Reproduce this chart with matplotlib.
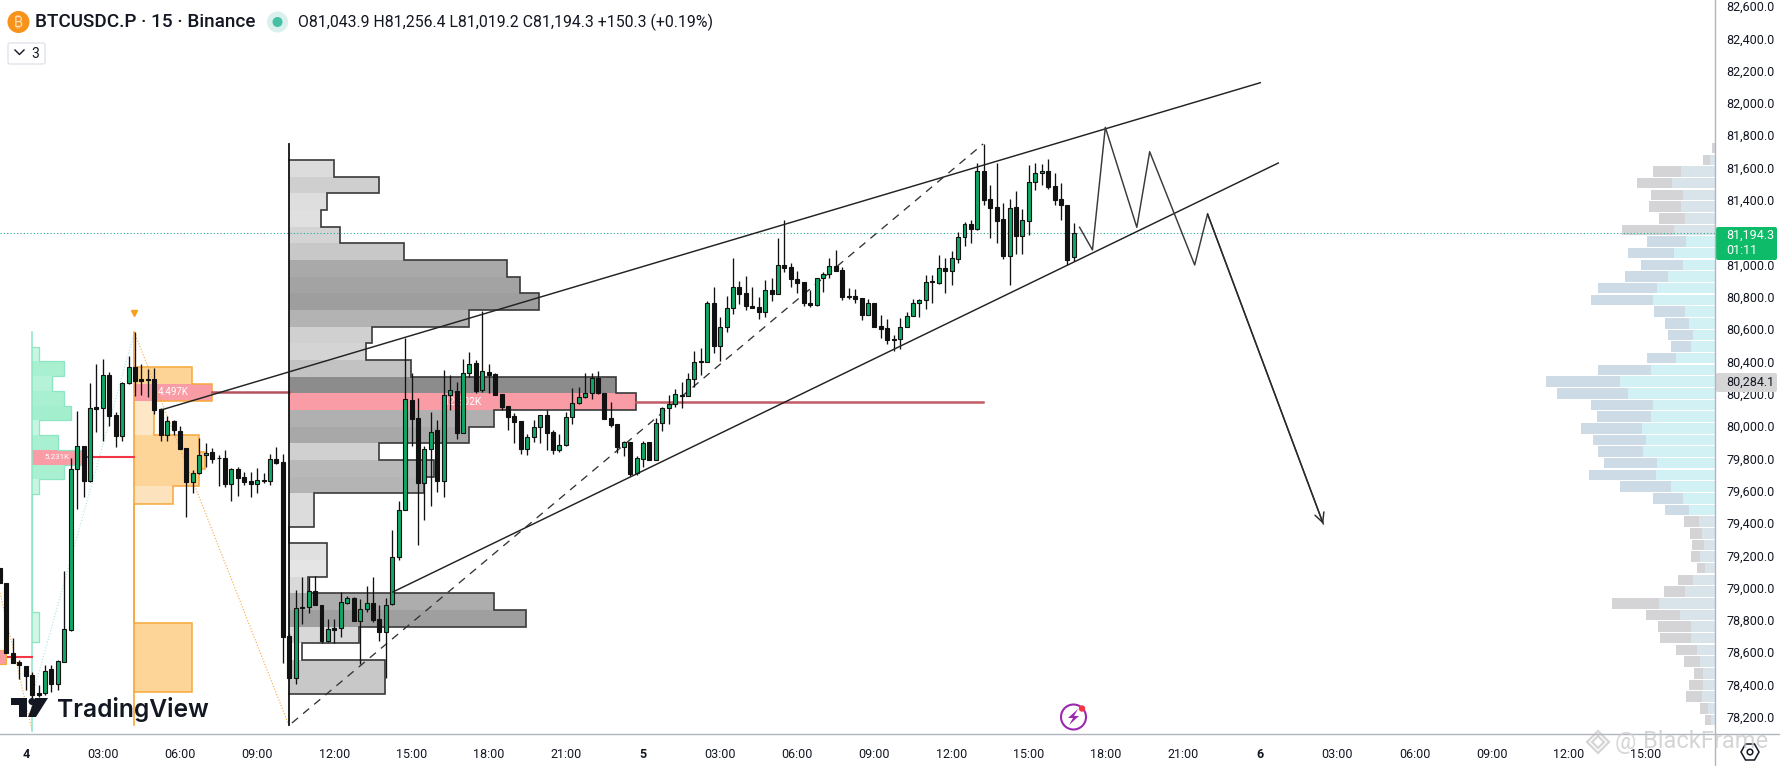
import numpy as np
import matplotlib
matplotlib.use('Agg')
import matplotlib.pyplot as plt
from matplotlib.patches import Rectangle, Circle, Polygon, FancyBboxPatch

plt.rcParams['font.family'] = ['Roboto', 'DejaVu Sans']

# 15 minute candles
opens = [79119, 79026, 78597, 78537, 78517, 78459, 78346, 78346, 78494, 78403,
         78542, 78738, 79732, 79876, 79662, 80116, 80113, 80314, 80066, 79940,
         80264, 80367, 80289, 80289, 80289, 80103, 79944, 80033, 79971, 79862,
         79656, 79707, 79819, 79837, 79804, 79800, 79643, 79732, 79682, 79660,
         79643, 79664, 79662, 79796, 79775, 78701, 78439, 78879, 78879, 78982,
         78891, 78672, 78749, 78749, 78907, 78934, 78796, 78866, 78903, 78804,
         78728, 78899, 79188, 79479, 80162, 80048, 79650, 79856, 79976, 79662,
         80191, 80217, 79960, 80327, 80393, 80226, 80335, 80321, 80197, 80123,
         80061, 80032, 79861, 79931, 79993, 80067, 79962, 79854, 79881, 80054,
         80141, 80178, 80203, 80296, 80203, 80048, 80011, 79873, 79900, 79708,
         79799, 79900, 79792, 80021, 80110, 80137, 80195, 80185, 80290, 80403,
         80399, 80760, 80498, 80616, 80733, 80863, 80822, 80746, 80735, 80704,
         80839, 80820, 80995, 80983, 80909, 80890, 80760, 80748, 80915, 80940,
         80989, 80964, 80806, 80804, 80791, 80690, 80760, 80618, 80605, 80537,
         80537, 80616, 80684, 80764, 80783, 80898, 80888, 80977, 80962, 81037,
         81169, 81249, 81218, 81577, 81404, 81354, 81280, 81055, 81354, 81179,
         81272, 81509, 81565, 81577, 81484, 81404, 81367, 81043.9]
highs = [79119, 79026, 78686, 78552, 78517, 78480, 78397, 78521, 78521, 78552,
         79103, 79800, 80093, 79876, 80264, 80382, 80413, 80336, 80089, 80274,
         80433, 80580, 80382, 80351, 80357, 80109, 80062, 80037, 80002, 79862,
         79728, 79924, 79897, 79862, 79821, 79852, 79738, 79748, 79717, 79713,
         79738, 79707, 79825, 79868, 79825, 78718, 78986, 79068, 79068, 79072,
         78891, 78804, 78804, 78971, 78949, 78945, 78928, 79013, 79064, 78893,
         78934, 79357, 79535, 80543, 80327, 80172, 79877, 80085, 80038, 80347,
         80316, 80275, 80413, 80457, 80409, 80713, 80382, 80327, 80197, 80123,
         80079, 80032, 79951, 80038, 80069, 80100, 79976, 79951, 80090, 80234,
         80244, 80327, 80327, 80341, 80203, 80147, 80011, 79908, 79900, 79815,
         79910, 79900, 80048, 80121, 80193, 80228, 80271, 80331, 80465, 80482,
         80771, 80863, 80674, 80806, 81039, 80898, 80929, 80859, 80797, 80905,
         80915, 81167, 81276, 81008, 80958, 80890, 80843, 80919, 80956, 81039,
         81090, 80983, 80853, 80847, 80791, 80787, 80760, 80688, 80661, 80564,
         80667, 80705, 80787, 80787, 80936, 80936, 81059, 81039, 81086, 81198,
         81260, 81276, 81627, 81746, 81493, 81631, 81383, 81404, 81455, 81344,
         81616, 81627, 81621, 81651, 81565, 81503, 81367, 81256.4]
lows = [79026, 78593, 78535, 78432, 78366, 78315, 78325, 78335, 78356, 78366,
        78537, 78733, 79486, 79563, 79656, 79963, 79909, 80002, 79872, 79909,
        80260, 80186, 80192, 80182, 80072, 79909, 79909, 79944, 79856, 79439,
        79587, 79703, 79744, 79769, 79631, 79620, 79538, 79567, 79635, 79559,
        79587, 79645, 79635, 79765, 78535, 78443, 78404, 78775, 78841, 78891,
        78656, 78666, 78660, 78693, 78899, 78796, 78528, 78848, 78790, 78672,
        78439, 78891, 79172, 79479, 79879, 79264, 79419, 79506, 79594, 79563,
        80100, 79918, 79955, 80306, 80207, 80213, 80203, 80195, 80100, 79976,
        79894, 79828, 79821, 79904, 79898, 79852, 79828, 79842, 79877, 80013,
        80137, 80172, 80168, 80199, 80046, 79993, 79836, 79815, 79691, 79700,
        79749, 79792, 79790, 79972, 80013, 80120, 80110, 80183, 80240, 80317,
        80395, 80451, 80403, 80581, 80692, 80756, 80719, 80729, 80663, 80672,
        80771, 80818, 80956, 80859, 80822, 80746, 80735, 80746, 80830, 80915,
        80958, 80781, 80785, 80760, 80657, 80688, 80616, 80544, 80506, 80467,
        80476, 80612, 80682, 80678, 80723, 80764, 80880, 80822, 80874, 81012,
        81115, 81132, 81214, 81369, 81163, 81136, 81033, 80874, 81066, 81066,
        81183, 81462, 81493, 81468, 81369, 81276, 80997, 81019.2]
closes = [79026, 78593, 78535, 78519, 78455, 78335, 78335, 78486, 78403, 78546,
          78742, 79732, 79876, 79662, 80109, 80107, 80314, 80064, 79940, 80264,
          80367, 80281, 80281, 80285, 80101, 79944, 80033, 79975, 79860, 79656,
          79707, 79819, 79835, 79798, 79800, 79643, 79732, 79680, 79653, 79643,
          79664, 79660, 79794, 79773, 78692, 78443, 78872, 78872, 78982, 78891,
          78672, 78742, 78740, 78910, 78934, 78796, 78866, 78907, 78800, 78728,
          78895, 79188, 79479, 80166, 80046, 79650, 79856, 79966, 79662, 80191,
          80222, 79960, 80327, 80382, 80220, 80339, 80319, 80195, 80120, 80059,
          80028, 79861, 79931, 79993, 80067, 79960, 79854, 79881, 80054, 80141,
          80178, 80205, 80296, 80203, 80046, 80009, 79873, 79900, 79704, 79801,
          79898, 79792, 80021, 80110, 80137, 80197, 80185, 80290, 80395, 80395,
          80760, 80498, 80616, 80733, 80863, 80820, 80746, 80733, 80704, 80839,
          80820, 80995, 80981, 80909, 80888, 80760, 80748, 80915, 80940, 80989,
          80962, 80801, 80801, 80789, 80690, 80760, 80616, 80603, 80533, 80533,
          80616, 80684, 80764, 80783, 80894, 80894, 80977, 80962, 81039, 81169,
          81249, 81218, 81577, 81402, 81352, 81272, 81055, 81348, 81179, 81276,
          81509, 81565, 81577, 81482, 81400, 81367, 81030, 81194.3]

# time axis, one tick every 12 bars
time_ticks = [4, 16, 28, 40, 52, 64, 76, 88, 100, 112, 124, 136, 148, 160, 172, 184,
              196, 208, 220, 232, 244, 256]
time_labels = ['4', '03:00', '06:00', '09:00', '12:00', '15:00', '18:00', '21:00',
               '5', '03:00', '06:00', '09:00', '12:00', '15:00', '18:00', '21:00',
               '6', '03:00', '06:00', '09:00', '12:00', '15:00']
price_ticks = [78200, 78400, 78600, 78800, 79000, 79200, 79400, 79600, 79800, 80000, 80200,
               80400, 80600, 80800, 81000, 81200, 81400, 81600, 81800, 82000, 82200, 82400, 82600]
last_price = 81194.3
poc_price = 80284.1

# grey fixed range profile, volume in K, top row first
grey_vol = [1.594, 3.199, 1.371, 1.134, 1.831, 4.098, 7.747, 8.193, 8.881, 6.376, 2.965,
            2.728, 4.322, 11.608, 12.302, 7.287, 6.376, 3.199, 5.147, 4.793, 0.910, 0.910,
            0, 1.371, 1.371, 0.698, 7.287, 8.420, 2.504, 0.460, 3.411, 3.411]
grey_shade = ['#dcdcdc', '#cfcfcf', '#dedede', '#e0e0e0', '#d4d4d4', '#c8c8c8', '#a9a9a9',
              '#a3a3a3', '#9e9e9e', '#b3b3b3', '#d0d0d0', '#d4d4d4', '#c2c2c2', '#8c8c8c',
              '#f99ca6', '#b0b0b0', '#a8a8a8', '#d0d0d0', '#b8b8b8', '#b4b4b4', '#dcdcdc',
              '#dcdcdc', '#ffffff', '#e0e0e0', '#e5e5e5', '#d9d9d9', '#adadad', '#9f9f9f',
              '#d8d8d8', '#ffffff', '#c8c8c8', '#c8c8c8']
# orange and mint session profiles
orange_vol = [3.374, 4.497, 1.146, 1.146, 3.781, 4.130, 3.781, 2.269, 0, 0, 0, 0, 0, 0, 0,
              3.374, 3.374, 3.374, 3.374]
orange_shade = ['#fdd495', '#f99ca6', '#fde7c6', '#fde7c6', '#fdd599', '#fdd599', '#fdd599',
                '#fde3bd', '#ffffff', '#ffffff', '#ffffff', '#ffffff', '#ffffff', '#ffffff',
                '#ffffff', '#fdd599', '#fdd599', '#fdd599', '#fdd599']
mint_vol = [0.649, 3.101, 1.909, 3.101, 3.75, 0.649, 2.49, 5.231, 3.101, 0.649, 0, 0, 0, 0,
            0, 0, 0, 0, 0.649, 0.649]
mint_shade = ['#c8f5e2', '#a8f0d0', '#b5f2d8', '#a8f0d0', '#a3efcd', '#c8f5e2', '#a8f0d0',
              '#f99ca6', '#a8f0d0', '#c8f5e2', '#ffffff', '#ffffff', '#ffffff', '#ffffff',
              '#ffffff', '#ffffff', '#ffffff', '#ffffff', '#d0f6e6', '#d0f6e6']

# visible range volume profile on the right, top row first
vrvp_price = [81721, 81647, 81575, 81503, 81431, 81358, 81286, 81214, 81142, 81070, 80997,
              80925, 80853, 80781, 80708, 80636, 80564, 80492, 80420, 80347, 80275, 80203,
              80131, 80059, 79986, 79914, 79842, 79770, 79697, 79625, 79553, 79481, 79409,
              79336, 79264, 79192, 79120, 79048, 78975, 78903, 78831, 78759, 78687, 78614,
              78542, 78470, 78398, 78326, 78253, 78181]
vrvp_total = [3.3, 12.3, 62.3, 78.3, 64.3, 66.3, 56.3, 93.3, 68.3, 87.3, 74.3, 90.3, 117.3,
              124.3, 61.3, 50.3, 47.3, 44.3, 68.3, 117.3, 169.3, 158.3, 124.3, 118.3, 134.3,
              122.3, 117.3, 111.3, 126.3, 95.3, 62.3, 50.3, 31.3, 25.3, 23.3, 24.3, 18.3,
              37.3, 51.3, 103.3, 69.3, 57.3, 55.3, 39.3, 31.3, 21.3, 26.3, 29.3, 15.3, 10.3]
vrvp_up = [0, 5.3, 34.3, 42.7, 31.7, 33.7, 29.7, 41.3, 29.3, 41.3, 32.3, 47.3, 58.3, 62.3,
           30.3, 26.3, 22.3, 24.3, 39.3, 64.3, 95.3, 87.3, 62.3, 64.3, 73.3, 69.3, 72.3,
           58.3, 59.3, 44.3, 32.3, 26.3, 16.3, 13.3, 11.3, 15.3, 10.3, 22.3, 30.3, 56.3,
           35.3, 24.3, 24.3, 18.3, 15.3, 12.3, 12.3, 13.3, 7.3, 4.3]
vrvp_in_area = [False] * 8 + [True] * 24 + [False] * 18

# drawn lines, bar index and price
wedge_top_x, wedge_top_y = [25.1, 196.0], [80100, 82125]
wedge_low_x, wedge_low_y = [61.1, 198.8], [78973, 81628]
dash_x, dash_y = [45.4, 152.9], [78162, 81746]
path_x = [167.9, 169.9, 171.9, 176.8, 178.8, 185.8, 187.8, 205.8]
path_y = [81230, 81090, 81849, 81230, 81698, 80997, 81313, 79394]

bar_px = 6.43
width_px, height_px = 1780, 766
axis_x, axis_y = 1715, 734

fig = plt.figure(figsize=(width_px / 100, height_px / 100), dpi=100, facecolor='white')
ax = fig.add_axes([0, 1 - axis_y / height_px, axis_x / width_px, axis_y / height_px])
ax.set_xlim(0, axis_x / bar_px)
ax.set_ylim(78094, 82637)
for s in ax.spines.values():
    s.set_visible(False)


def draw_profile(k0, top, row_h, vols, shades, scale, edge, lw, z=1):
    tops = top - row_h * np.arange(len(vols))
    lengths = np.array(vols) * scale
    ax.barh(tops - row_h / 2, lengths, left=k0, height=row_h, color=shades, linewidth=0, zorder=z)
    xs, ys = [k0], [top]
    for t, w in zip(tops, lengths):
        xs += [k0 + w, k0 + w]
        ys += [t, t - row_h]
    xs.append(k0)
    ys.append(ys[-1])
    ax.plot(xs, ys, color=edge, lw=lw, zorder=z + 0.1, solid_joinstyle='miter')


# right hand profile
ax_vp = ax.twiny()
ax_vp.set_xlim(axis_x, 0)
ax_vp.axis('off')
ax_vp.set_zorder(ax.get_zorder() - 1)
ax.patch.set_visible(False)
vp_out = ['#ccdbe6' if a else '#d4d4d6' for a in vrvp_in_area]
vp_in = ['#d2f1f4' if a else '#d8e3ea' for a in vrvp_in_area]
ax_vp.barh(vrvp_price, vrvp_total, height=65, color=vp_out, linewidth=0)
ax_vp.barh(vrvp_price, vrvp_up, height=65, color=vp_in, linewidth=0)

# session profiles and their lines
draw_profile(4.98, 80491, 91.3, mint_vol, mint_shade, 1.605, '#8be6c4', 0.9)
draw_profile(20.9, 80368, 106, orange_vol, orange_shade, 2.673, '#f7a83b', 1.1)
draw_profile(44.9, 81647, 103.2, grey_vol, grey_shade, 4.39, '#3a3a3a', 1.2)
ax.plot([4.98, 4.98], [80582, 78113], color='#8be6c4', lw=1.1, zorder=1.2)
ax.plot([20.9, 20.9], [80582, 78150], color='#f7a83b', lw=1.2, zorder=1.2)
ax.plot([44.9, 44.9], [81746, 78150], color='#111111', lw=1.3, zorder=3)
ax.plot([5, 20.9], [78325, 80580], color='#a9e3ea', lw=0.8, ls=':', zorder=1)
ax.plot([20.9, 44.9], [80580, 78150], color='#f7a83b', lw=0.8, ls=':', zorder=1)
ax.plot([0, 5], [78968, 78113], color='#f7a83b', lw=0.8, ls=':', zorder=1)
ax.plot([13.4, 20.9], [79811, 79811], color='#f23645', lw=1.5, zorder=1.3)
ax.plot([32.9, 44.9], [80213, 80213], color='#b5535d', lw=1.8, zorder=1.3)
ax.plot([98.9, 152.8], [80151, 80151], color='#c05a65', lw=1.8, zorder=1.3)
ax.plot([1, 5], [78573, 78573], color='#f23645', lw=1.5, zorder=1.3)
ax.add_patch(Rectangle((-0.2, 78530), 1.2, 84, facecolor='#f99ca6', edgecolor='#f7a83b', lw=0.8, zorder=1.3))
ax.plot([20.9], [80700], marker='v', color='#f7a11a', ms=5, zorder=4)
ax.text(26.9, 80213, '4.497K', color='white', fontsize=7, ha='center', va='center', zorder=1.5)
ax.text(8.9, 79811, '5.231K', color='white', fontsize=5.8, ha='center', va='center', zorder=1.5)
ax.text(71.9, 80151, '12.302K', color='white', fontsize=7.5, ha='center', va='center', zorder=1.5)

# current price line
ax.axhline(last_price, color='#22ab94', lw=0.8, ls=(0, (1, 2)), zorder=2)

# candles
k = np.arange(len(closes))
o, h, l, c = map(np.array, (opens, highs, lows, closes))
up = c > o
ax.vlines(k, l, h, color='#111111', lw=0.95, zorder=5)
body_low = np.minimum(o, c)
body_h = np.abs(c - o)
ax.bar(k[up], body_h[up], bottom=body_low[up], width=0.62, color='#10a866',
       edgecolor='#111111', linewidth=0.8, zorder=6)
ax.bar(k[~up], body_h[~up], bottom=body_low[~up], width=0.62, color='#111111',
       edgecolor='#111111', linewidth=0.8, zorder=6)

# trend lines and projected path
ax.plot(wedge_top_x, wedge_top_y, color='#222222', lw=1.05, zorder=7)
ax.plot(wedge_low_x, wedge_low_y, color='#222222', lw=1.05, zorder=7)
ax.plot(dash_x, dash_y, color='#333333', lw=0.95, ls=(0, (6, 5)), zorder=4)
ax.plot(path_x, path_y, color='#3a3a3a', lw=1.05, zorder=7)
ax.annotate('', xy=(path_x[-1], path_y[-1]), xytext=(path_x[-2], path_y[-2]),
            arrowprops=dict(arrowstyle='->', color='#2a2a2a', lw=1.05, mutation_scale=17,
                            shrinkA=0, shrinkB=0), zorder=7)

# axes
ax.yaxis.tick_right()
ax.set_yticks(price_ticks)
ax.set_yticklabels([f'{p:,.1f}' for p in price_ticks], fontsize=9, color='#131722')
ax.tick_params(axis='y', length=0, pad=8)
ax.set_xticks(time_ticks)
ax.set_xticklabels(time_labels, fontsize=9, color='#131722')
ax.tick_params(axis='x', length=0, pad=10)
for lab, txt in zip(ax.get_xticklabels(), time_labels):
    if len(txt) == 1:
        lab.set_fontweight('bold')

# overlay in pixels for the platform furniture
ov = fig.add_axes([0, 0, 1, 1], zorder=10)
ov.set_xlim(0, width_px)
ov.set_ylim(height_px, 0)
ov.axis('off')
ov.patch.set_visible(False)
ov.plot([0, width_px], [axis_y, axis_y], color='#b2b5be', lw=1)
ov.plot([axis_x, axis_x], [0, height_px], color='#b2b5be', lw=1)

ov.add_patch(FancyBboxPatch((1717, 228), 59, 31, boxstyle='round,pad=1,rounding_size=2', fc='#0ebb68', ec='none'))
ov.text(1726, 235.5, f'{last_price:,.1f}', color='white', fontsize=9, va='center')
ov.text(1726, 250, '01:11', color='white', fontsize=9, va='center')
ov.add_patch(FancyBboxPatch((1717, 374), 59, 17, boxstyle='round,pad=1,rounding_size=2', fc='#d6d6d6', ec='none'))
ov.text(1726, 382, f'{poc_price:,.1f}', color='#131722', fontsize=9, va='center')

# header
ov.add_patch(Circle((18.5, 22), 11, fc='#f7931a', ec='none'))
ov.text(18.5, 22, '\u20bf', color='#ffe3bd', fontsize=10, ha='center', va='center',
        family=['Inter', 'Noto Sans', 'Open Sans', 'Lato', 'Liberation Sans'])
ov.text(35, 22, 'BTCUSDC.P \u00b7 15 \u00b7 Binance', fontsize=13.6, fontweight='medium', color='#131722', va='center')
ov.add_patch(Circle((277.5, 22), 10.5, fc='#d9f0ec', ec='none'))
ov.add_patch(Circle((277.5, 22), 5, fc='#44c0a6', ec='none'))
ov.text(298, 22, 'O81,043.9 H81,256.4 L81,019.2 C81,194.3 +150.3 (+0.19%)', fontsize=11.4,
        color='#131722', va='center')
ov.add_patch(FancyBboxPatch((8, 43), 37, 21, boxstyle='round,pad=0,rounding_size=2', fc='white', ec='#e0e3eb', lw=1))
ov.plot([15, 19.5, 24], [50, 54.5, 50], color='#131722', lw=1)
ov.text(31, 53.5, '3', fontsize=10, color='#131722', va='center')

# TradingView logo
logo = '#131722'
ov.add_patch(Polygon([(11, 698), (27, 698), (27, 717), (19, 717), (19, 705), (11, 705)], fc=logo, ec='none'))
ov.add_patch(Circle((32, 701.5), 3.5, fc=logo, ec='none'))
ov.add_patch(Polygon([(35, 698), (48, 698), (36, 717), (28, 717)], fc=logo, ec='none'))
ov.text(57, 709, 'TradingView', fontsize=17.7, fontweight='semibold', color=logo, va='center', family=['Inter', 'Roboto'])

# lightning badge
ov.add_patch(Circle((1073.5, 717), 12.5, fc='white', ec='#9c27b0', lw=1.5))
ov.add_patch(Polygon([(1078, 709), (1068, 718), (1073, 718), (1069, 725), (1079, 716), (1074, 716)], fc='#9c27b0', ec='none'))
ov.add_patch(Circle((1082, 708.5), 3.2, fc='#f23645', ec='none'))

# settings hexagon
ov.add_patch(Polygon([(1741, 752), (1745.5, 744), (1754.5, 744), (1759, 752), (1754.5, 760), (1745.5, 760)],
                     fc='none', ec='#131722', lw=1.1))
ov.add_patch(Circle((1750, 752), 2.8, fc='none', ec='#131722', lw=1.1))

# watermark
for size in (11, 6):
    ov.add_patch(Polygon([(1598 - size, 742), (1598, 742 - size), (1598 + size, 742), (1598, 742 + size)],
                         fc='none', ec='#d6d6d6', lw=1.6))
ov.text(1615, 742, '@', fontsize=17, color='#d0d0d0', va='center', alpha=0.85)
ov.text(1643, 742, 'BlackFrame', fontsize=17, color='#c8c8c8', va='center', alpha=0.75)

fig.savefig('out.png', dpi=100)
